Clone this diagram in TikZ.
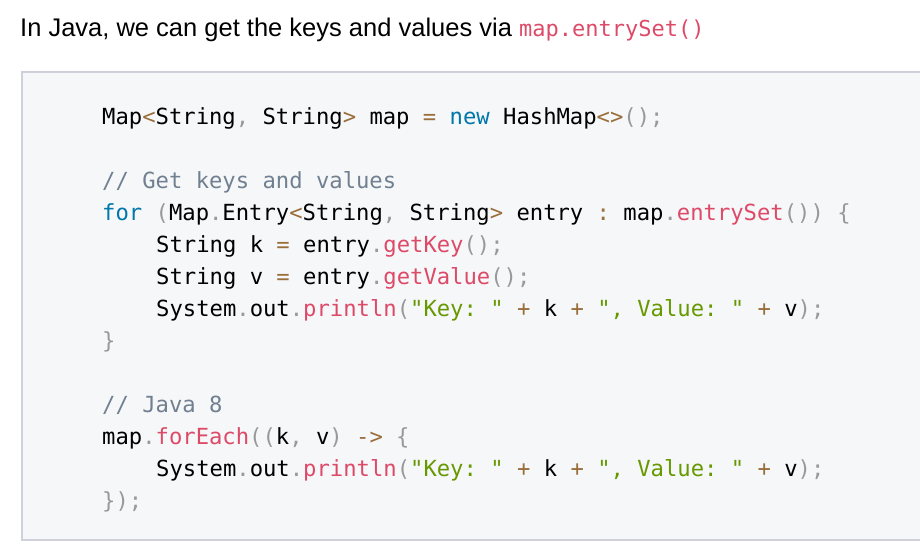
\documentclass[tikz,border=0pt]{standalone}
\usepackage{fontspec}
\setmainfont{Liberation Sans}
\setmonofont{DejaVu Sans Mono}
\definecolor{kwblue}{HTML}{0077AA}
\definecolor{fnpink}{HTML}{DD4A68}
\definecolor{strgreen}{HTML}{669900}
\definecolor{cmtgray}{HTML}{708090}
\definecolor{punctgray}{HTML}{999999}
\definecolor{opbrown}{HTML}{9A6E3A}
\definecolor{boxfill}{HTML}{F6F7F9}
\definecolor{boxline}{HTML}{D0D0DA}
\newcommand{\kw}[1]{\textcolor{kwblue}{#1}}
\newcommand{\fn}[1]{\textcolor{fnpink}{#1}}
\newcommand{\str}[1]{\textcolor{strgreen}{#1}}
\newcommand{\pu}[1]{\textcolor{punctgray}{#1}}
\newcommand{\op}[1]{\textcolor{opbrown}{#1}}
\begin{document}
\begin{tikzpicture}[x=1pt,y=-1pt,
  codeline/.style={anchor=base west,inner sep=0pt,font=\ttfamily\fontsize{22.2}{24}\selectfont},
  prose/.style={anchor=base west,inner sep=0pt,font=\fontsize{25.5}{28}\selectfont}]

\useasboundingbox (0,0) rectangle (920,544);
\draw [fill=boxfill,draw=boxline,line width=1.2pt] (22,72) rectangle (921,540);

\node [prose] (intro) at (20,36) {In Java, we can get the keys and values via \textcolor{fnpink}{\ttfamily\fontsize{22}{24}\selectfont map.entrySet()}};

% code lines
\def\cx{102} \def\ix{156}
\node [codeline] (l1) at (\cx,124) {Map\op{<}String\pu{,} String\op{>} map \op{=} \kw{new} HashMap\op{<>}\pu{();}};
\node [codeline] (l2) at (\cx,188) {\textcolor{cmtgray}{// Get keys and values}};
\node [codeline] (l3) at (\cx,220) {\kw{for} \pu{(}Map\pu{.}Entry\op{<}String\pu{,} String\op{>} entry \op{:} map\pu{.}\fn{entrySet}\pu{())} \pu{\{}};
\node [codeline] (l4) at (\ix,252) {String k \op{=} entry\pu{.}\fn{getKey}\pu{();}};
\node [codeline] (l5) at (\ix,284) {String v \op{=} entry\pu{.}\fn{getValue}\pu{();}};
\node [codeline] (l6) at (\ix,316) {System\pu{.}out\pu{.}\fn{println}\pu{(}\str{"Key: "} \op{+} k \op{+} \str{", Value: "} \op{+} v\pu{);}};
\node [codeline] (l7) at (\cx,348) {\pu{\}}};
\node [codeline] (l8) at (\cx,412) {\textcolor{cmtgray}{// Java 8}};
\node [codeline] (l9) at (\cx,444) {map\pu{.}\fn{forEach}\pu{((}k\pu{,} v\pu{)} \op{->} \pu{\{}};
\node [codeline] (l10) at (\ix,476) {System\pu{.}out\pu{.}\fn{println}\pu{(}\str{"Key: "} \op{+} k \op{+} \str{", Value: "} \op{+} v\pu{);}};
\node [codeline] (l11) at (\cx,508) {\pu{\});}};
\end{tikzpicture}
\end{document}
